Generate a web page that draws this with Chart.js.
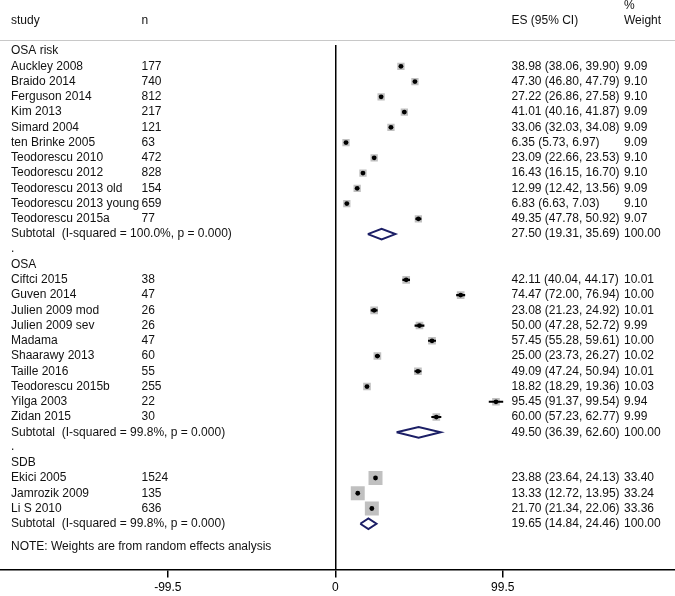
<!DOCTYPE html>
<html>
<head>
<meta charset="utf-8">
<script src="https://cdn.jsdelivr.net/npm/chart.js@4.4.1/dist/chart.umd.min.js"></script>
<style>
  html, body { margin: 0; padding: 0; background: #fff; }
  #wrap { position: relative; width: 675px; height: 596px; }
</style>
</head>
<body>
<div id="wrap"><canvas id="chart-forest"></canvas></div>
<script>
'use strict';

//#region DATOS
const grupos = ['OSA risk', 'OSA', 'SDB'];

const estudios = [
  'Auckley 2008', 'Braido 2014', 'Ferguson 2014', 'Kim 2013', 'Simard 2004',
  'ten Brinke 2005', 'Teodorescu 2010', 'Teodorescu 2012', 'Teodorescu 2013 old',
  'Teodorescu 2013 young', 'Teodorescu 2015a',
  'Ciftci 2015', 'Guven 2014', 'Julien 2009 mod', 'Julien 2009 sev', 'Madama',
  'Shaarawy 2013', 'Taille 2016', 'Teodorescu 2015b', 'Yilga 2003', 'Zidan 2015',
  'Ekici 2005', 'Jamrozik 2009', 'Li S 2010'
];
const grupoDeEstudio = [0, 0, 0, 0, 0, 0, 0, 0, 0, 0, 0,
  1, 1, 1, 1, 1, 1, 1, 1, 1, 1,
  2, 2, 2];
const nEstudio = [177, 740, 812, 217, 121, 63, 472, 828, 154, 659, 77,
  38, 47, 26, 26, 47, 60, 55, 255, 22, 30,
  1524, 135, 636];
const es = [38.98, 47.30, 27.22, 41.01, 33.06, 6.35, 23.09, 16.43, 12.99, 6.83, 49.35,
  42.11, 74.47, 23.08, 50.00, 57.45, 25.00, 49.09, 18.82, 95.45, 60.00,
  23.88, 13.33, 21.70];
const ciBajo = [38.06, 46.80, 26.86, 40.16, 32.03, 5.73, 22.66, 16.15, 12.42, 6.63, 47.78,
  40.04, 72.00, 21.23, 47.28, 55.28, 23.73, 47.24, 18.29, 91.37, 57.23,
  23.64, 12.72, 21.34];
const ciAlto = [39.90, 47.79, 27.58, 41.87, 34.08, 6.97, 23.53, 16.70, 13.56, 7.03, 50.92,
  44.17, 76.94, 24.92, 52.72, 59.61, 26.27, 50.94, 19.36, 99.54, 62.77,
  24.13, 13.95, 22.06];
const pesos = [9.09, 9.10, 9.10, 9.09, 9.09, 9.09, 9.10, 9.10, 9.09, 9.10, 9.07,
  10.01, 10.00, 10.01, 9.99, 10.00, 10.02, 10.01, 10.03, 9.94, 9.99,
  33.40, 33.24, 33.36];

const subES = [27.50, 49.50, 19.65];
const subBajo = [19.31, 36.39, 14.84];
const subAlto = [35.69, 62.60, 24.46];
const subI2 = ['100.0%', '99.8%', '99.8%'];
const subP = ['0.000', '0.000', '0.000'];

const ticksX = [-99.5, 0, 99.5];
//#endregion DATOS

//#region FILAS
function construirFilas() {
  const filas = [];
  let r = 0;
  grupos.forEach(function (g, gi) {
    if (gi > 0) {
      filas.push({ tipo: 'punto', fila: r });
      r++;
    }
    filas.push({ tipo: 'grupo', texto: g, fila: r });
    r++;
    estudios.forEach(function (s, i) {
      if (grupoDeEstudio[i] !== gi) return;
      filas.push({ tipo: 'estudio', idx: i, fila: r });
      r++;
    });
    filas.push({ tipo: 'subtotal', idx: gi, fila: r });
    r++;
  });
  return filas;
}

const filas = construirFilas();
const filaDeEstudio = [];
const filaDeSubtotal = [];
filas.forEach(function (f) {
  if (f.tipo === 'estudio') filaDeEstudio[f.idx] = f.fila;
  if (f.tipo === 'subtotal') filaDeSubtotal[f.idx] = f.fila;
});
const filaNota = filaDeSubtotal[filaDeSubtotal.length - 1] + 1.5;
//#endregion FILAS

//#region ESTILO
const FUENTE = "12px 'Liberation Sans', Arial, sans-serif";
const COLOR_TEXTO = '#111';
const COLOR_CAJA = '#c0c0c0';
const COLOR_DIAMANTE = '#1c1f66';
const MEDIA_ALTURA_DIAMANTE = 0.35; // en filas
const K_CAJA = 2.42; // lado px = K * sqrt(peso)
const COL_ESTUDIO = 11;
const COL_N = 141.5;
const COL_ES = 511.5;
const COL_PESO = 624;
//#endregion ESTILO

function fmt2(v) {
  return v.toFixed(2);
}

function radioCaja(c) {
  const lado = K_CAJA * Math.sqrt(pesos[c.dataIndex]);
  return lado / (2 * Math.SQRT1_2);
}

const pluginTextos = {
  id: 'textosForest',
  afterDraw: function (chart) {
    const ctx = chart.ctx;
    const ys = chart.scales.y;
    ctx.save();
    ctx.font = FUENTE;
    ctx.fillStyle = COLOR_TEXTO;
    ctx.textBaseline = 'middle';
    ctx.textAlign = 'left';

    // cabecera
    const yCab = ys.getPixelForValue(-2);
    ctx.fillText('study', COL_ESTUDIO, yCab);
    ctx.fillText('n', COL_N, yCab);
    ctx.fillText('ES (95% CI)', COL_ES, yCab);
    ctx.fillText('%', COL_PESO, ys.getPixelForValue(-2.95));
    ctx.fillText('Weight', COL_PESO, yCab);

    filas.forEach(function (f) {
      const y = ys.getPixelForValue(f.fila);
      if (f.tipo === 'grupo') {
        ctx.fillText(f.texto, COL_ESTUDIO, y);
      } else if (f.tipo === 'punto') {
        ctx.fillText('.', COL_ESTUDIO, y - 1);
      } else if (f.tipo === 'estudio') {
        const i = f.idx;
        ctx.fillText(estudios[i], COL_ESTUDIO, y);
        ctx.fillText(String(nEstudio[i]), COL_N, y);
        ctx.fillText(fmt2(es[i]) + ' (' + fmt2(ciBajo[i]) + ', ' + fmt2(ciAlto[i]) + ')', COL_ES, y);
        ctx.fillText(fmt2(pesos[i]), COL_PESO, y);
      } else if (f.tipo === 'subtotal') {
        const g = f.idx;
        ctx.fillText('Subtotal  (I-squared = ' + subI2[g] + ', p = ' + subP[g] + ')', COL_ESTUDIO, y);
        ctx.fillText(fmt2(subES[g]) + ' (' + fmt2(subBajo[g]) + ', ' + fmt2(subAlto[g]) + ')', COL_ES, y);
        ctx.fillText('100.00', COL_PESO, y);
      }
    });

    ctx.fillText('NOTE: Weights are from random effects analysis', COL_ESTUDIO, ys.getPixelForValue(filaNota));

    // línea bajo la cabecera
    const yLinea = Math.round(ys.getPixelForValue(-0.7)) + 0.5;
    ctx.strokeStyle = '#c8c8c8';
    ctx.lineWidth = 1;
    ctx.beginPath();
    ctx.moveTo(0, yLinea);
    ctx.lineTo(chart.width, yLinea);
    ctx.stroke();
    ctx.restore();
  }
};

function construirDatasets() {
  const datasets = [];

  datasets.push({
    type: 'scatter',
    data: estudios.map(function (s, i) {
      return { x: es[i], y: filaDeEstudio[i] };
    }),
    pointStyle: 'rect',
    pointRadius: radioCaja,
    pointHoverRadius: radioCaja,
    backgroundColor: COLOR_CAJA,
    borderWidth: 0,
    order: 4
  });

  datasets.push({
    type: 'bar',
    indexAxis: 'y',
    data: estudios.map(function (s, i) {
      return { x: [ciBajo[i], ciAlto[i]], y: filaDeEstudio[i] };
    }),
    backgroundColor: '#000',
    borderWidth: 0,
    barThickness: 1.5,
    grouped: false,
    order: 3
  });

  datasets.push({
    type: 'scatter',
    data: estudios.map(function (s, i) {
      return { x: es[i], y: filaDeEstudio[i] };
    }),
    pointStyle: 'circle',
    pointRadius: 2.4,
    pointHoverRadius: 2.4,
    backgroundColor: '#000',
    borderWidth: 0,
    order: 2
  });

  subES.forEach(function (v, g) {
    const f = filaDeSubtotal[g];
    datasets.push({
      type: 'scatter',
      showLine: true,
      data: [
        { x: subBajo[g], y: f },
        { x: v, y: f - MEDIA_ALTURA_DIAMANTE },
        { x: subAlto[g], y: f },
        { x: v, y: f + MEDIA_ALTURA_DIAMANTE },
        { x: subBajo[g], y: f }
      ],
      borderColor: COLOR_DIAMANTE,
      backgroundColor: COLOR_DIAMANTE,
      borderWidth: 2,
      borderJoinStyle: 'miter',
      pointRadius: 0,
      pointHoverRadius: 0,
      tension: 0,
      fill: false,
      order: 1
    });
  });

  return datasets;
}

const canvas = document.getElementById('chart-forest');
const chartForest = new Chart(canvas.getContext('2d'), {
  type: 'scatter',
  data: { datasets: construirDatasets() },
  options: {
    responsive: true,
    maintainAspectRatio: false,
    animation: false,
    layout: {
      autoPadding: false,
      padding: { top: 45, left: 0, right: 0, bottom: 0 }
    },
    plugins: {
      legend: { display: false },
      tooltip: { enabled: false }
    },
    scales: {
      x: {
        type: 'linear',
        min: -199.2,
        max: 201.8,
        offset: false,
        afterBuildTicks: function (scale) {
          scale.ticks = ticksX.map(function (v) {
            return { value: v };
          });
        },
        afterFit: function (scale) {
          scale.height = 26.5;
        },
        ticks: {
          autoSkip: false,
          maxRotation: 0,
          padding: 3,
          color: '#000',
          font: { family: "'Liberation Sans', Arial, sans-serif", size: 12 },
          callback: function (v) {
            return String(v);
          }
        },
        grid: {
          offset: false,
          drawOnChartArea: true,
          color: function (c) {
            return c.tick && c.tick.value === 0 ? '#000' : 'rgba(0,0,0,0)';
          },
          lineWidth: 1.5,
          tickColor: '#000',
          tickWidth: 1.5,
          tickLength: 8
        },
        border: { display: true, color: '#000', width: 1.5 }
      },
      y: {
        type: 'linear',
        display: false,
        reverse: true,
        offset: false,
        min: -0.4,
        max: 34,
        grid: { offset: false }
      }
    }
  },
  plugins: [pluginTextos]
});
</script>
</body>
</html>
